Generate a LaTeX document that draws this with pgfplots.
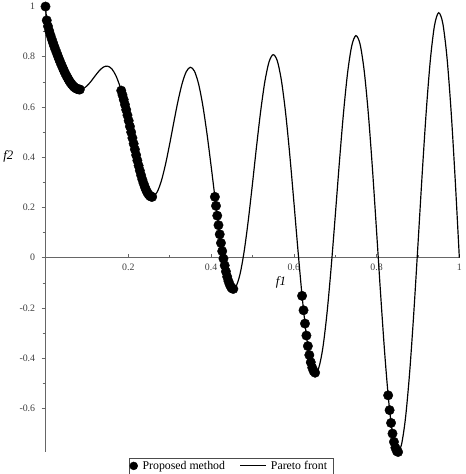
\documentclass[border=0pt]{standalone}
\usepackage{fontspec}
\setmainfont{Liberation Serif}
\usepackage{pgfplots}
\pgfplotsset{compat=1.18}
\begin{document}
\begin{tikzpicture}
\begin{axis}[
  scale only axis,
  width=420pt, height=452pt,
  xmin=0, xmax=1, ymin=-0.773, ymax=1,
  axis lines=middle,
  axis line style={black!60, line width=0.8pt, -},
  clip=false,
  xtick={0.2,0.4,0.6,0.8,1},
  xticklabels={0.2,0.4,0.6,0.8,1},
  ytick={-0.6,-0.4,-0.2,0,0.2,0.4,0.6,0.8,1},
  yticklabels={-0.6,-0.4,-0.2,0,0.2,0.4,0.6,0.8,1},
  minor x tick num=1, minor y tick num=1,
  hide obscured x ticks=false, hide obscured y ticks=false,
  xtick align=inside, ytick align=outside,
  major tick length=4pt, minor tick length=3pt,
  tick style={black!60, line width=0.6pt},
  /pgf/number format/assume math mode=true,
  tick label style={font=\fontsize{10}{11}\selectfont, text=black!75},
  xticklabel style={anchor=north, yshift=-3pt},
  yticklabel style={anchor=east, xshift=-3pt},
  legend columns=2,
  legend style={at={(0.448,0)}, anchor=north, yshift=-6pt,
    draw=black!70, line width=0.5pt, font=\fontsize{12}{13}\selectfont,
    inner sep=1pt, /tikz/every even column/.append style={column sep=10pt},
    nodes={inner xsep=5pt}},
  legend image post style={scale=1.0},
  legend cell align=left,
]
\addlegendimage{only marks, mark=*, mark size=4pt, black}
\addlegendentry{Proposed method}
\addlegendimage{black, line width=1pt, legend image code/.code={\draw[black, line width=1pt] (0pt,0pt) -- (0.9cm,0pt);}}
\addlegendentry{Pareto front}

\addplot[black, line width=1.2pt, smooth, forget plot] coordinates {
(0,1) (0.003,0.9449) (0.006,0.9214) (0.01,0.8969) (0.02,0.8468) (0.03,0.8025) (0.04,0.7620) (0.05,0.7264) (0.06,0.6980) (0.07,0.6788) (0.08,0.6701) (0.09,0.6722) (0.10,0.6838) (0.11,0.7023) (0.12,0.7241) (0.13,0.7446) (0.14,0.7590) (0.15,0.7627) (0.16,0.7522) (0.17,0.7252) (0.18,0.6815) (0.19,0.6228) (0.20,0.5528) (0.21,0.4768) (0.22,0.4016) (0.23,0.3343) (0.24,0.2818) (0.25,0.25) (0.26,0.2428) (0.27,0.2620) (0.28,0.3063) (0.29,0.3719) (0.30,0.4523) (0.31,0.5390) (0.32,0.6224) (0.33,0.6925) (0.34,0.7403) (0.35,0.7584) (0.36,0.7424) (0.37,0.6911) (0.38,0.6069) (0.39,0.4960) (0.40,0.3675) (0.41,0.2330) (0.42,0.1051) (0.43,-0.0036) (0.44,-0.0818) (0.45,-0.1208) (0.46,-0.1157) (0.47,-0.0658) (0.48,0.0250) (0.49,0.1486) (0.50,0.2929) (0.51,0.4435) (0.52,0.5845) (0.53,0.7008) (0.54,0.7787) (0.55,0.8084) (0.56,0.7843) (0.57,0.7062) (0.58,0.5793) (0.59,0.4142) (0.60,0.2254) (0.61,0.0305) (0.62,-0.1518) (0.63,-0.3034) (0.64,-0.4087) (0.65,-0.4562) (0.66,-0.4401) (0.67,-0.3606) (0.68,-0.2243) (0.69,-0.0439) (0.70,0.1633) (0.71,0.3768) (0.72,0.5747) (0.73,0.7362) (0.74,0.8435) (0.75,0.8840) (0.76,0.8510) (0.77,0.7454) (0.78,0.5753) (0.79,0.3553) (0.80,0.1056) (0.81,-0.1503) (0.82,-0.3875) (0.83,-0.5825) (0.84,-0.7154) (0.85,-0.7720) (0.86,-0.7453) (0.87,-0.6366) (0.88,-0.4553) (0.89,-0.2184) (0.90,0.0513) (0.91,0.3273) (0.92,0.5816) (0.93,0.7880) (0.94,0.9245) (0.95,0.9753) (0.96,0.9332) (0.97,0.7999) (0.98,0.5861) (0.99,0.3109) (1.00,0)
};

\addplot[only marks, mark=*, mark size=4.8pt, black, forget plot] coordinates {
(0,1) (0.003,0.9449) (0.006,0.9214) (0.009,0.9026) (0.012,0.8860) (0.015,0.8707) (0.018,0.8562) (0.021,0.8422) (0.024,0.8287) (0.027,0.8154) (0.030,0.8025) (0.033,0.7899) (0.036,0.7777) (0.039,0.7658) (0.042,0.7544) (0.045,0.7434) (0.048,0.7330) (0.051,0.7232) (0.054,0.7140) (0.057,0.7056) (0.060,0.6980) (0.063,0.6912) (0.066,0.6853) (0.069,0.6803) (0.072,0.6762) (0.075,0.6731) (0.078,0.6710) (0.081,0.6699) (0.083,0.6697)
(0.183,0.6654) (0.186,0.6479) (0.189,0.6293) (0.192,0.6096) (0.195,0.5889) (0.198,0.5675) (0.201,0.5454) (0.204,0.5228) (0.207,0.4999) (0.210,0.4768) (0.213,0.4539) (0.216,0.4312) (0.219,0.4089) (0.222,0.3873) (0.225,0.3666) (0.228,0.3468) (0.231,0.3283) (0.234,0.3112) (0.237,0.2957) (0.240,0.2818) (0.243,0.2699) (0.246,0.2600) (0.249,0.2521) (0.252,0.2465) (0.255,0.2432) (0.2578,0.2422)
(0.4093,0.2423) (0.412,0.2065) (0.415,0.1674) (0.418,0.1295) (0.421,0.0931) (0.424,0.0586) (0.427,0.0263) (0.430,-0.0036) (0.433,-0.0307) (0.436,-0.0548) (0.439,-0.0756) (0.442,-0.0929) (0.445,-0.1066) (0.448,-0.1164) (0.451,-0.1223) (0.4539,-0.1242)
(0.620,-0.1518) (0.6235,-0.2092) (0.627,-0.2622) (0.6305,-0.3099) (0.634,-0.3518) (0.6375,-0.3874) (0.641,-0.4162) (0.6445,-0.4375) (0.648,-0.4517) (0.6515,-0.4579)
(0.828,-0.5479) (0.8315,-0.6068) (0.835,-0.6578) (0.8385,-0.7001) (0.842,-0.7332) (0.8455,-0.7566) (0.849,-0.7700) (0.852,-0.7734)
};

\node[font=\itshape\fontsize{13}{13}\selectfont] at (axis cs:0.569,-0.098) {f1};
\node[font=\itshape\fontsize{13}{13}\selectfont] at (axis cs:-0.09,0.404) {f2};
\end{axis}
\end{tikzpicture}
\end{document}
